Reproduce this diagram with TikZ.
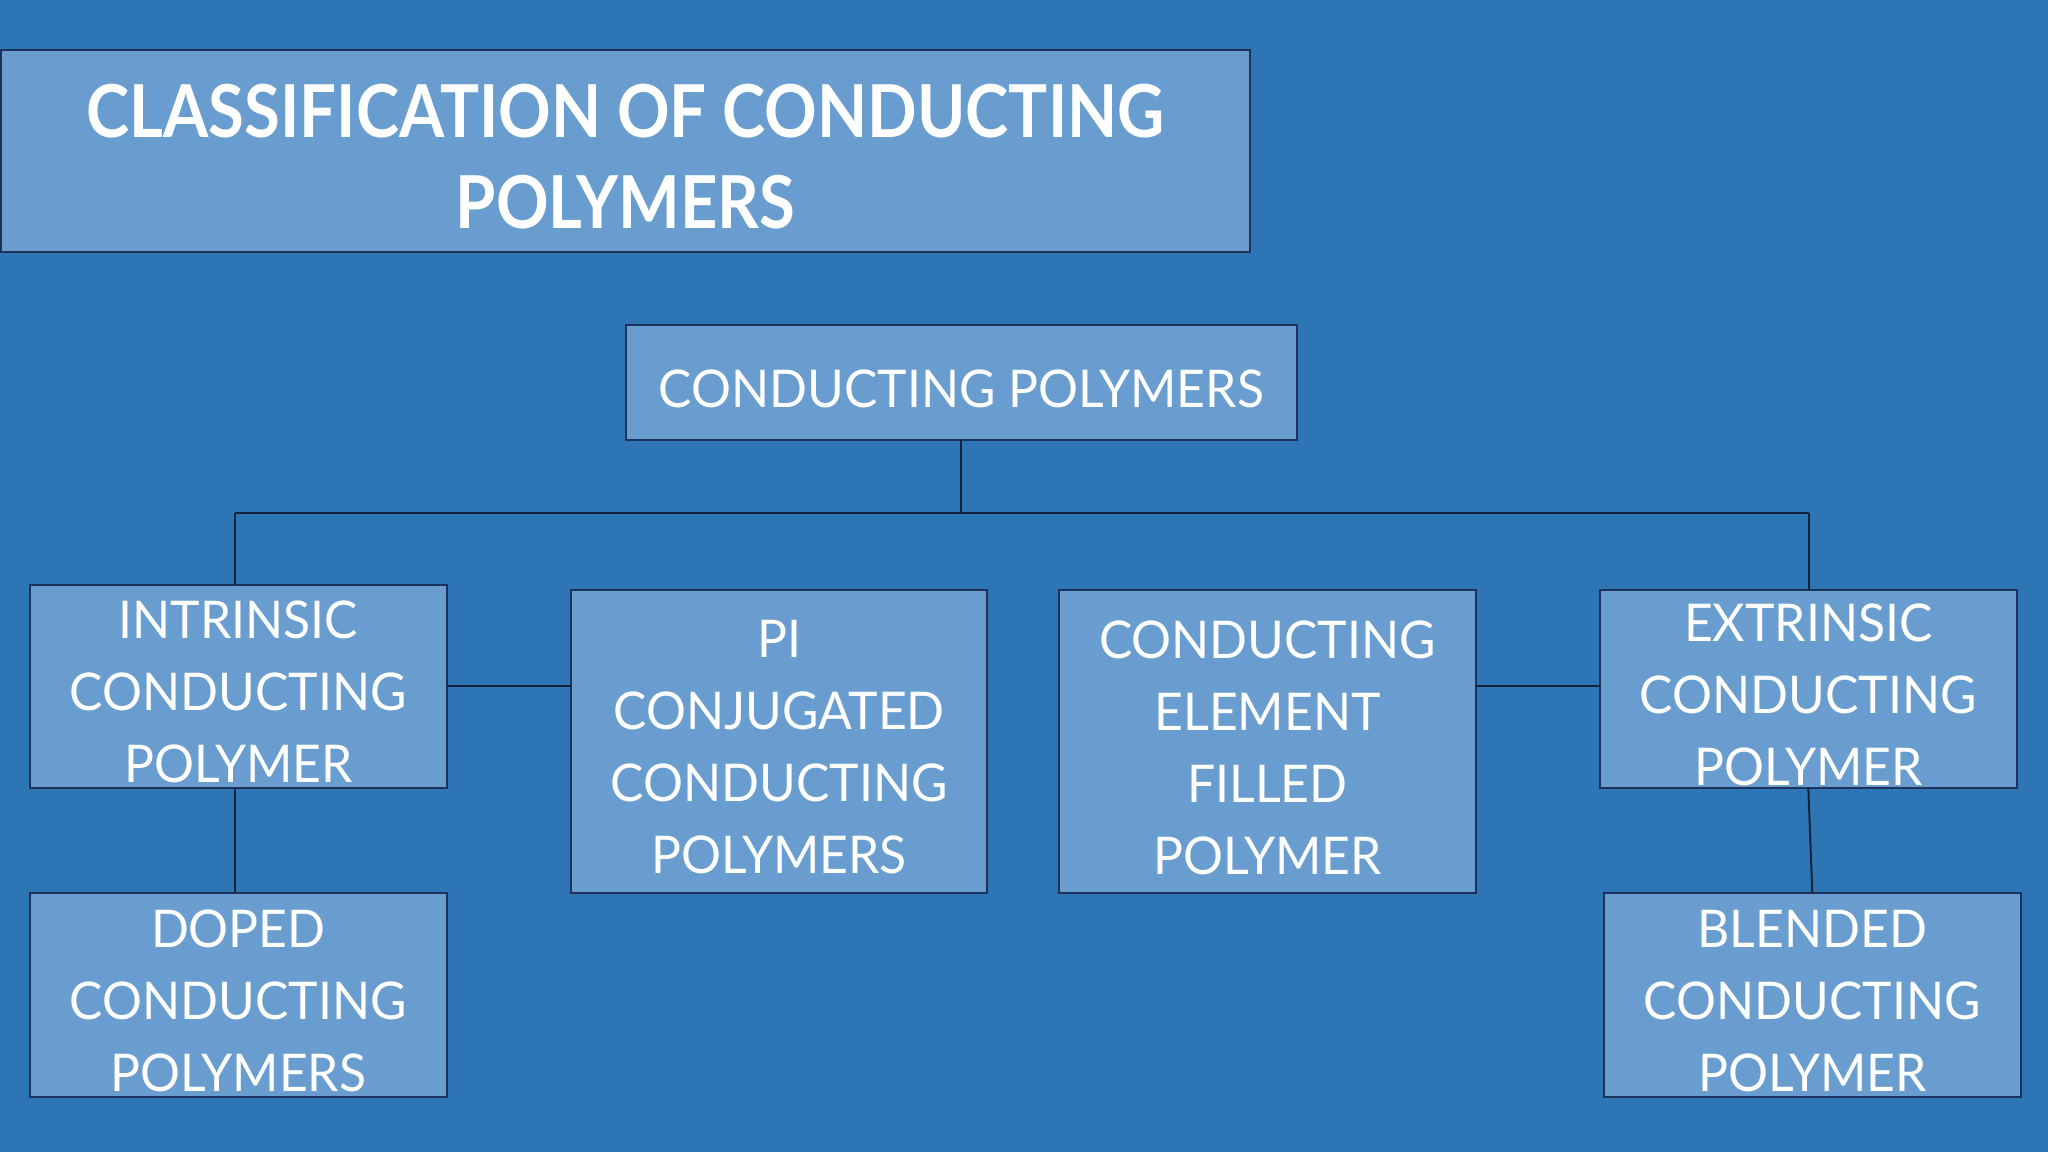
\documentclass[tikz,border=0pt]{standalone}
\usepackage{fontspec}
\setmainfont[FakeStretch=0.96]{Lato}
\newfontfamily\titlefont[FakeStretch=0.893]{Lato}
\usetikzlibrary{calc}
\definecolor{bgblue}{RGB}{46,117,182}
\definecolor{boxfill}{RGB}{105,157,207}
\definecolor{boxline}{RGB}{28,50,90}
\definecolor{connline}{RGB}{20,35,60}
\begin{document}
\begin{tikzpicture}[x=0.5pt,y=-0.5pt,
  box/.style={rectangle, draw=boxline, line width=1pt, fill=boxfill, inner sep=0pt, outer sep=0pt},
  txt/.style={text=white, align=center, inner sep=0pt, font=\fontsize{26}{36}\selectfont},
  ttl/.style={text=white, align=center, inner sep=0pt, font=\titlefont\fontsize{36.5}{45.7}\selectfont\bfseries},
  conn/.style={draw=connline, line width=1pt}]
\fill[bgblue] (0,0) rectangle (2048,1152);
\useasboundingbox (0,0) rectangle (2048,1152);

% boxes
\node[box, minimum width=624.5pt, minimum height=101.2pt] (title) at (625.5,150.8) {};
\node[box, minimum width=335.7pt, minimum height=57.5pt] (cp) at (961.3,382.5) {};
\node[box, minimum width=208.35pt, minimum height=101.3pt] (intr) at (238.35,686.3) {};
\node[box, minimum width=208.3pt, minimum height=151.5pt] (pi) at (779.1,741.5) {};
\node[box, minimum width=208.5pt, minimum height=151.5pt] (cefp) at (1267.5,741.5) {};
\node[box, minimum width=208.3pt, minimum height=98.8pt] (extr) at (1808.3,688.8) {};
\node[box, minimum width=208.35pt, minimum height=102pt] (doped) at (238.35,995) {};
\node[box, minimum width=208.3pt, minimum height=102pt] (blend) at (1812.3,995) {};

% texts
\node[ttl] (title-t) at ($(title.center)+(0,6)$) {CLASSIFICATION OF CONDUCTING\\POLYMERS};
\node[txt] (cp-t) at ($(cp.center)+(0,6)$) {CONDUCTING POLYMERS};
\node[txt] (intr-t) at ($(intr.center)+(0,6)$) {INTRINSIC\\CONDUCTING\\POLYMER};
\node[txt] (pi-t) at ($(pi.center)+(0,6)$) {PI\\CONJUGATED\\CONDUCTING\\POLYMERS};
\node[txt] (cefp-t) at ($(cefp.center)+(0,6)$) {CONDUCTING\\ELEMENT\\FILLED\\POLYMER};
\node[txt] (extr-t) at ($(extr.center)+(0,6)$) {EXTRINSIC\\CONDUCTING\\POLYMER};
\node[txt] (doped-t) at ($(doped.center)+(0,6)$) {DOPED\\CONDUCTING\\POLYMERS};
\node[txt] (blend-t) at ($(blend.center)+(0,6)$) {BLENDED\\CONDUCTING\\POLYMER};

% connectors
\coordinate (hm) at (961.3,513.3);
\coordinate (hl) at (235,513.3);
\coordinate (hr) at (1809,513.3);
\draw[conn] (cp.south) -- (hm);
\draw[conn] (hl) -- (hr);
\draw[conn] (hl) -- (hl |- intr.north);
\draw[conn] (hr) -- (hr |- extr.north);
\draw[conn] (hl |- intr.south) -- (hl |- doped.north);
\draw[conn] (extr.south) -- (blend.north);
\draw[conn] (intr.east) -- (intr.east -| pi.west);
\draw[conn] (cefp.east |- intr.east) -- (extr.west |- intr.east);
\end{tikzpicture}
\end{document}
